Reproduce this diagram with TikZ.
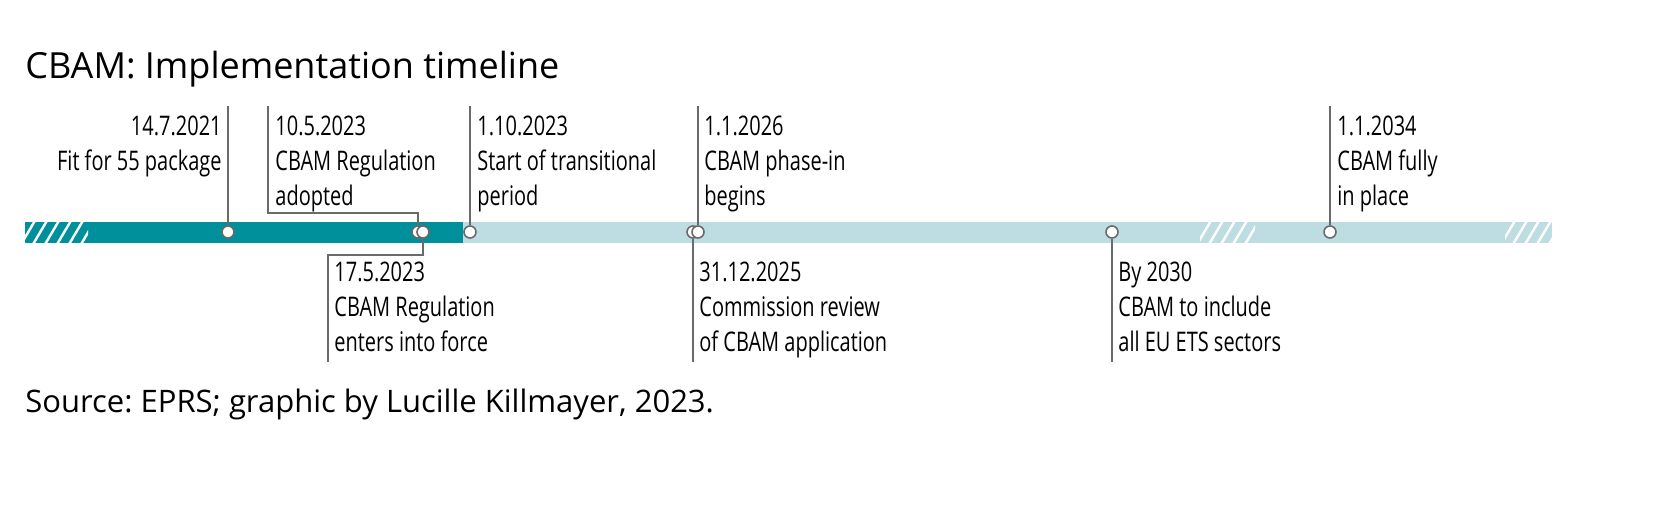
\documentclass[tikz,border=0pt]{standalone}
\usepackage{fontspec}
\setmainfont{Open Sans}
\newfontfamily\condfont[FakeStretch=0.74]{Open Sans}
\definecolor{darkteal}{HTML}{00909B}
\definecolor{lightteal}{HTML}{BEDDE2}
\definecolor{linegray}{HTML}{6A6A6A}
\tikzset{
  dot/.style={circle, draw=linegray, fill=white, line width=0.8pt, inner sep=0pt, minimum size=6pt},
  stem/.style={draw=linegray, line width=0.8pt},
  lbl/.style={font=\condfont\fontsize{13.5}{17.5}\selectfont, align=left, inner sep=0pt},
  hatch/.style={white, line width=1.2pt}
}
\begin{document}
\frenchspacing
\begin{tikzpicture}[x=0.5pt, y=-0.5pt]
    \useasboundingbox (0,0) rectangle (1680,504);
    \node [anchor=base west, inner sep=0pt, font=\fontsize{18}{20}\selectfont] (title) at (25,78) {CBAM: Implementation timeline};
    \node [anchor=base west, inner sep=0pt, font=\fontsize{15.5}{20}\selectfont] (source) at (25,412) {Source: EPRS; graphic by Lucille Killmayer, 2023.};
    % bar
    \fill [lightteal] (25,222) rectangle (1552,243);
    \fill [darkteal] (25,222) rectangle (463,243);
    \begin{scope}
      \clip (25,222) rectangle (88,243) (1200,222) rectangle (1255,243) (1505,222) rectangle (1552,243);
      \foreach \x in {20,32,...,100,1196,1208,...,1250,1500,1512,...,1560}
        \draw [hatch] (\x,246) -- (\x+16,219);
    \end{scope}
    % markers
    \node [dot] (d1) at (228,232) {};
    \node [dot] (d2) at (418,232) {};
    \node [dot] (d3) at (423,232) {};
    \node [dot] (d4) at (470,232) {};
    \node [dot] (d5) at (693,232) {};
    \node [dot] (d6) at (698,232) {};
    \node [dot] (d7) at (1112,232) {};
    \node [dot] (d8) at (1330,232) {};
    % labels above
    \node [lbl, anchor=north east, align=right] (l1) at (222,116) {14.7.2021\\Fit for 55 package};
    \node [lbl, anchor=north west] (l2) at (275,116) {10.5.2023\\CBAM Regulation\\adopted};
    \node [lbl, anchor=north west] (l4) at (477,116) {1.10.2023\\Start of transitional\\period};
    \node [lbl, anchor=north west] (l6) at (704,116) {1.1.2026\\CBAM phase-in\\begins};
    \node [lbl, anchor=north west] (l8) at (1337,116) {1.1.2034\\CBAM fully\\in place};
    % labels below
    \node [lbl, anchor=north west] (l3) at (334,262) {17.5.2023\\CBAM Regulation\\enters into force};
    \node [lbl, anchor=north west] (l5) at (699,262) {31.12.2025\\Commission review\\of CBAM application};
    \node [lbl, anchor=north west] (l7) at (1118,262) {By 2030\\CBAM to include\\all EU ETS sectors};
    % stems
    \coordinate (t1) at (228,106);
    \coordinate (t2) at (268,106);
    \coordinate (t4) at (470,106);
    \coordinate (t6) at (698,106);
    \coordinate (t8) at (1330,106);
    \coordinate (b3) at (328,362);
    \coordinate (b5) at (693,362);
    \coordinate (b7) at (1112,362);
    \draw [stem] (t1) -- (d1);
    \draw [stem] (t2) |- (418,213) -- (d2);
    \draw [stem] (t4) -- (d4);
    \draw [stem] (t6) -- (d6);
    \draw [stem] (t8) -- (d8);
    \draw [stem] (d3) -- (423,255) -| (b3);
    \draw [stem] (d5) -- (b5);
    \draw [stem] (d7) -- (b7);
\end{tikzpicture}
\end{document}
